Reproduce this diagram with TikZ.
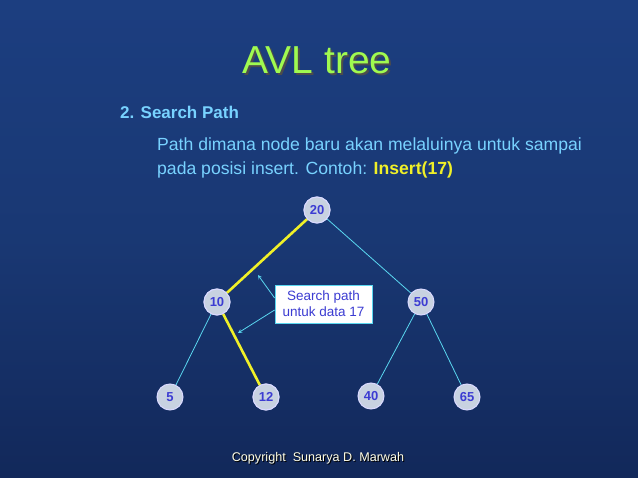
\documentclass[tikz,border=0pt]{standalone}
\usepackage{fontspec}
\setmainfont{Liberation Sans}
\definecolor{bg}{RGB}{28,62,128}
\definecolor{bgd}{RGB}{18,40,90}
\definecolor{ttl}{RGB}{160,250,80}
\definecolor{txt}{RGB}{120,210,255}
\definecolor{cyanl}{RGB}{90,215,240}
\definecolor{ylw}{RGB}{240,240,40}
\definecolor{nfill}{RGB}{200,210,225}
\definecolor{ntext}{RGB}{60,60,210}
\begin{document}
\begin{tikzpicture}[x=1pt,y=-1pt,
  tn/.style={circle,fill=nfill,draw=white!85!blue,line width=1pt,minimum size=26pt,inner sep=0pt,text=ntext,font=\bfseries\fontsize{13}{15}\selectfont},
  edge/.style={cyanl,line width=0.8pt},
  path/.style={ylw,line width=2.6pt}]
\shade[top color=bg,bottom color=bgd,middle color=bg!90!black] (0,0) rectangle (638,478);
\useasboundingbox (0,0) rectangle (638,478);
\node[text=black!70,font=\fontsize{39}{44}\selectfont] at (319,62) {AVL tree};
\node (title) [text=ttl,font=\fontsize{39}{44}\selectfont] at (317,60) {AVL tree};
\node (sec) [anchor=west,text=txt,font=\bfseries\fontsize{17}{20}\selectfont,inner sep=0pt] at (120,112) {2. Search Path};
\node (p1) [anchor=west,text=txt,font=\fontsize{17.6}{20}\selectfont,inner sep=0pt] at (157,146) {Path dimana node baru akan melaluinya untuk sampai};
\node (p2) [anchor=west,text=txt,font=\fontsize{17.6}{20}\selectfont,inner sep=0pt] at (157,170) {pada posisi insert. Contoh: \textcolor{ylw}{\bfseries Insert(17)}};
\node[tn] (n20) at (317,210) {20};
\node[tn] (n10) at (217,302) {10};
\node[tn] (n50) at (421,302) {50};
\node[tn] (n5) at (170,397) {5};
\node[tn] (n12) at (266,397) {12};
\node[tn] (n40) at (371,396) {40};
\node[tn] (n65) at (467,397) {65};
\draw[path] (n20) -- (n10);
\draw[path] (n10) -- (n12);
\draw[edge] (n20) -- (n50);
\draw[edge] (n10) -- (n5);
\draw[edge] (n50) -- (n40);
\draw[edge] (n50) -- (n65);
\node[tn] at (317,210) {20};
\node[tn] at (217,302) {10};
\node[tn] at (266,397) {12};
\node (box) [fill=white,draw=cyanl,line width=0.8pt,text=ntext,align=center,minimum width=97pt,minimum height=38pt,inner sep=2pt,font=\fontsize{13.5}{16}\selectfont] at (323.5,304) {Search path\\untuk data 17};
\coordinate (a1) at (258,275);
\coordinate (a2) at (238,333);
\draw[edge,->,>=stealth] (box.west) ++(0,-6) -- (a1);
\draw[edge,->,>=stealth] (box.west) ++(0,6) -- (a2);
\node[text=black,font=\fontsize{12.6}{15}\selectfont] at (319,459) {Copyright~~Sunarya D. Marwah};
\node (copy) [text=white!90!yellow,font=\fontsize{12.6}{15}\selectfont] at (318,458) {Copyright~~Sunarya D. Marwah};
\end{tikzpicture}
\end{document}
